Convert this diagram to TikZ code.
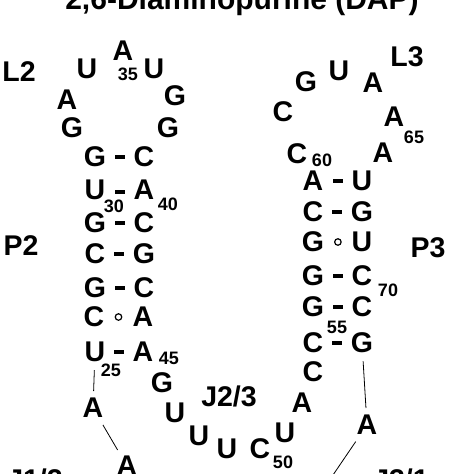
\documentclass[tikz,border=0pt]{standalone}
\usepackage{fontspec}
\setmainfont{Liberation Sans}

\begin{document}
\begin{tikzpicture}[x=1pt, y=-1pt,
    nt/.style={font=\fontsize{28.5}{28.5}\selectfont\bfseries, inner sep=0pt},
    sub/.style={font=\fontsize{18}{18}\selectfont\bfseries, inner sep=0pt},
    region/.style={font=\fontsize{28.5}{28.5}\selectfont\bfseries, inner sep=0pt},
    wc/.style={fill, minimum width=10pt, minimum height=3.5pt, inner sep=0pt},
    wob/.style={draw, circle, line width=1.2pt, minimum size=6.5pt, inner sep=0pt},
    bb/.style={line width=0.8pt, shorten <=8pt, shorten >=7pt}]
    \useasboundingbox (0,0) rectangle (474,474);
    \clip (0,0) rectangle (474,474);

    \node[font=\fontsize{30}{30}\selectfont\bfseries, anchor=base] (title) at (242,9) {2,6-Diaminopurine (DAP)};

    \node[nt] (n25) at (95,352) {U};
    \node[nt] (n26) at (94,317) {C};
    \node[nt] (n27) at (95,288) {G};
    \node[nt] (n28) at (95,254) {C};
    \node[nt] (n29) at (95,223) {G};
    \node[nt] (n30) at (95,190) {U};
    \node[nt] (n31) at (95,157) {G};

    \node[nt] (n32) at (72,128) {G};
    \node[nt] (n33) at (67,100) {A};
    \node[nt] (n34) at (87,69) {U};
    \node[nt] (n35) at (123,51) {A};
    \node[nt] (n36) at (154,69) {U};
    \node[nt] (n37) at (175,96) {G};
    \node[nt] (n38) at (168,128) {G};

    \node[nt] (n39) at (144,157) {C};
    \node[nt] (n40) at (144,190) {A};
    \node[nt] (n41) at (144,223) {C};
    \node[nt] (n42) at (144,254) {G};
    \node[nt] (n43) at (144,288) {C};
    \node[nt] (n44) at (143,317) {A};
    \node[nt] (n45) at (143,352) {A};

    \node[nt] (n46) at (162,383) {G};
    \node[nt] (n47) at (175,413) {U};
    \node[nt] (n48) at (199,436) {U};
    \node[nt] (n49) at (227,449) {U};
    \node[nt] (n50) at (260,449) {C};
    \node[nt] (n51) at (285,433) {U};
    \node[nt] (n52) at (302,403) {A};
    \node[nt] (n53) at (313,372) {C};

    \node[nt] (n54) at (313,343) {C};
    \node[nt] (n55) at (313,307) {G};
    \node[nt] (n56) at (313,276) {G};
    \node[nt] (n57) at (313,242) {G};
    \node[nt] (n58) at (313,212) {C};
    \node[nt] (n59) at (313,181) {A};

    \node[nt] (n60) at (297,154) {C};
    \node[nt] (n61) at (283,112) {C};
    \node[nt] (n62) at (306,82) {G};
    \node[nt] (n63) at (339,71) {U};
    \node[nt] (n64) at (373,83) {A};
    \node[nt] (n65) at (394,117) {A};
    \node[nt] (n66) at (383,153) {A};

    \node[nt] (n67) at (362,181) {U};
    \node[nt] (n68) at (362,212) {G};
    \node[nt] (n69) at (362,242) {U};
    \node[nt] (n70) at (362,276) {C};
    \node[nt] (n71) at (362,307) {C};
    \node[nt] (n72) at (362,343) {G};

    \node[nt] (n24) at (93,408) {A};
    \node[nt] (n23) at (127,466) {A};
    \node[nt] (n73) at (367,425) {A};
    \coordinate (c74) at (316,500);

    \path (n31) -- node[wc] {} (n39);
    \path (n30) -- node[wc, yshift=-2pt] {} (n40);
    \path (n29) -- node[wc] {} (n41);
    \path (n28) -- node[wc] {} (n42);
    \path (n27) -- node[wc] {} (n43);
    \path (n26) -- node[wob] {} (n44);
    \path (n25) -- node[wc] {} (n45);

    \path (n59) -- node[wc] {} (n67);
    \path (n58) -- node[wc] {} (n68);
    \path (n57) -- node[wob] {} (n69);
    \path (n56) -- node[wc] {} (n70);
    \path (n55) -- node[wc] {} (n71);
    \path (n54) -- node[wc] {} (n72);

    \draw[bb] (n25) -- (n24);
    \draw[bb] (n24) -- (n23);
    \draw[bb] (n72) -- (n73);
    \draw[bb] (n73) -- (c74);

    \node[sub] (s25) at (111,370) {25};
    \node[sub] (s30) at (114,206) {30};
    \node[sub] (s35) at (128,74) {35};
    \node[sub] (s40) at (168,204) {40};
    \node[sub] (s45) at (169,358) {45};
    \node[sub] (s50) at (283,462) {50};
    \node[sub] (s55) at (337,327) {55};
    \node[sub] (s60) at (322,160) {60};
    \node[sub] (s65) at (414,137) {65};
    \node[sub] (s70) at (388,290) {70};

    \node[region] (L2) at (19,72) {L2};
    \node[region] (L3) at (407,57) {L3};
    \node[region] (P2) at (21,246) {P2};
    \node[region] (P3) at (428,248) {P3};
    \node[region] (J23) at (229,396) {J2/3};
    \node[region] (J12) at (35,479) {J1/2};
    \node[region] (J31) at (401,479) {J3/1};
\end{tikzpicture}
\end{document}
